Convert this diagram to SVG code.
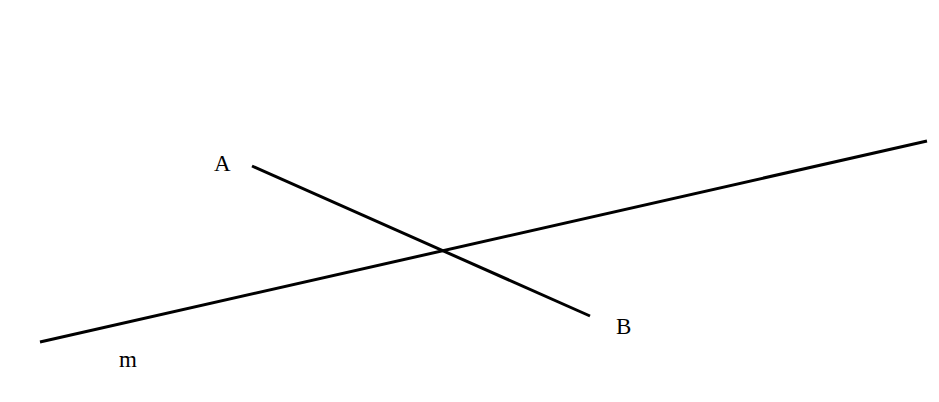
<svg xmlns="http://www.w3.org/2000/svg" width="939" height="402" viewBox="0 0 939 402">
<style>
.ln{stroke:#000;stroke-width:3;fill:none;stroke-linecap:butt}
.lb{font-family:"Liberation Serif","Times New Roman",serif;font-size:23px;fill:#000}
</style>
<rect width="939" height="402" fill="#fff"/>
<g id="connectors">
<line id="line-m" class="ln" x1="40" y1="342" x2="927" y2="141"/>
<line id="segment-AB" class="ln" x1="252" y1="166" x2="590" y2="316"/>
</g>
<g id="label-A"><text class="lb" x="214" y="171">A</text></g>
<g id="label-B"><text class="lb" x="616" y="334">B</text></g>
<g id="label-m"><text class="lb" x="119" y="367">m</text></g>
</svg>
